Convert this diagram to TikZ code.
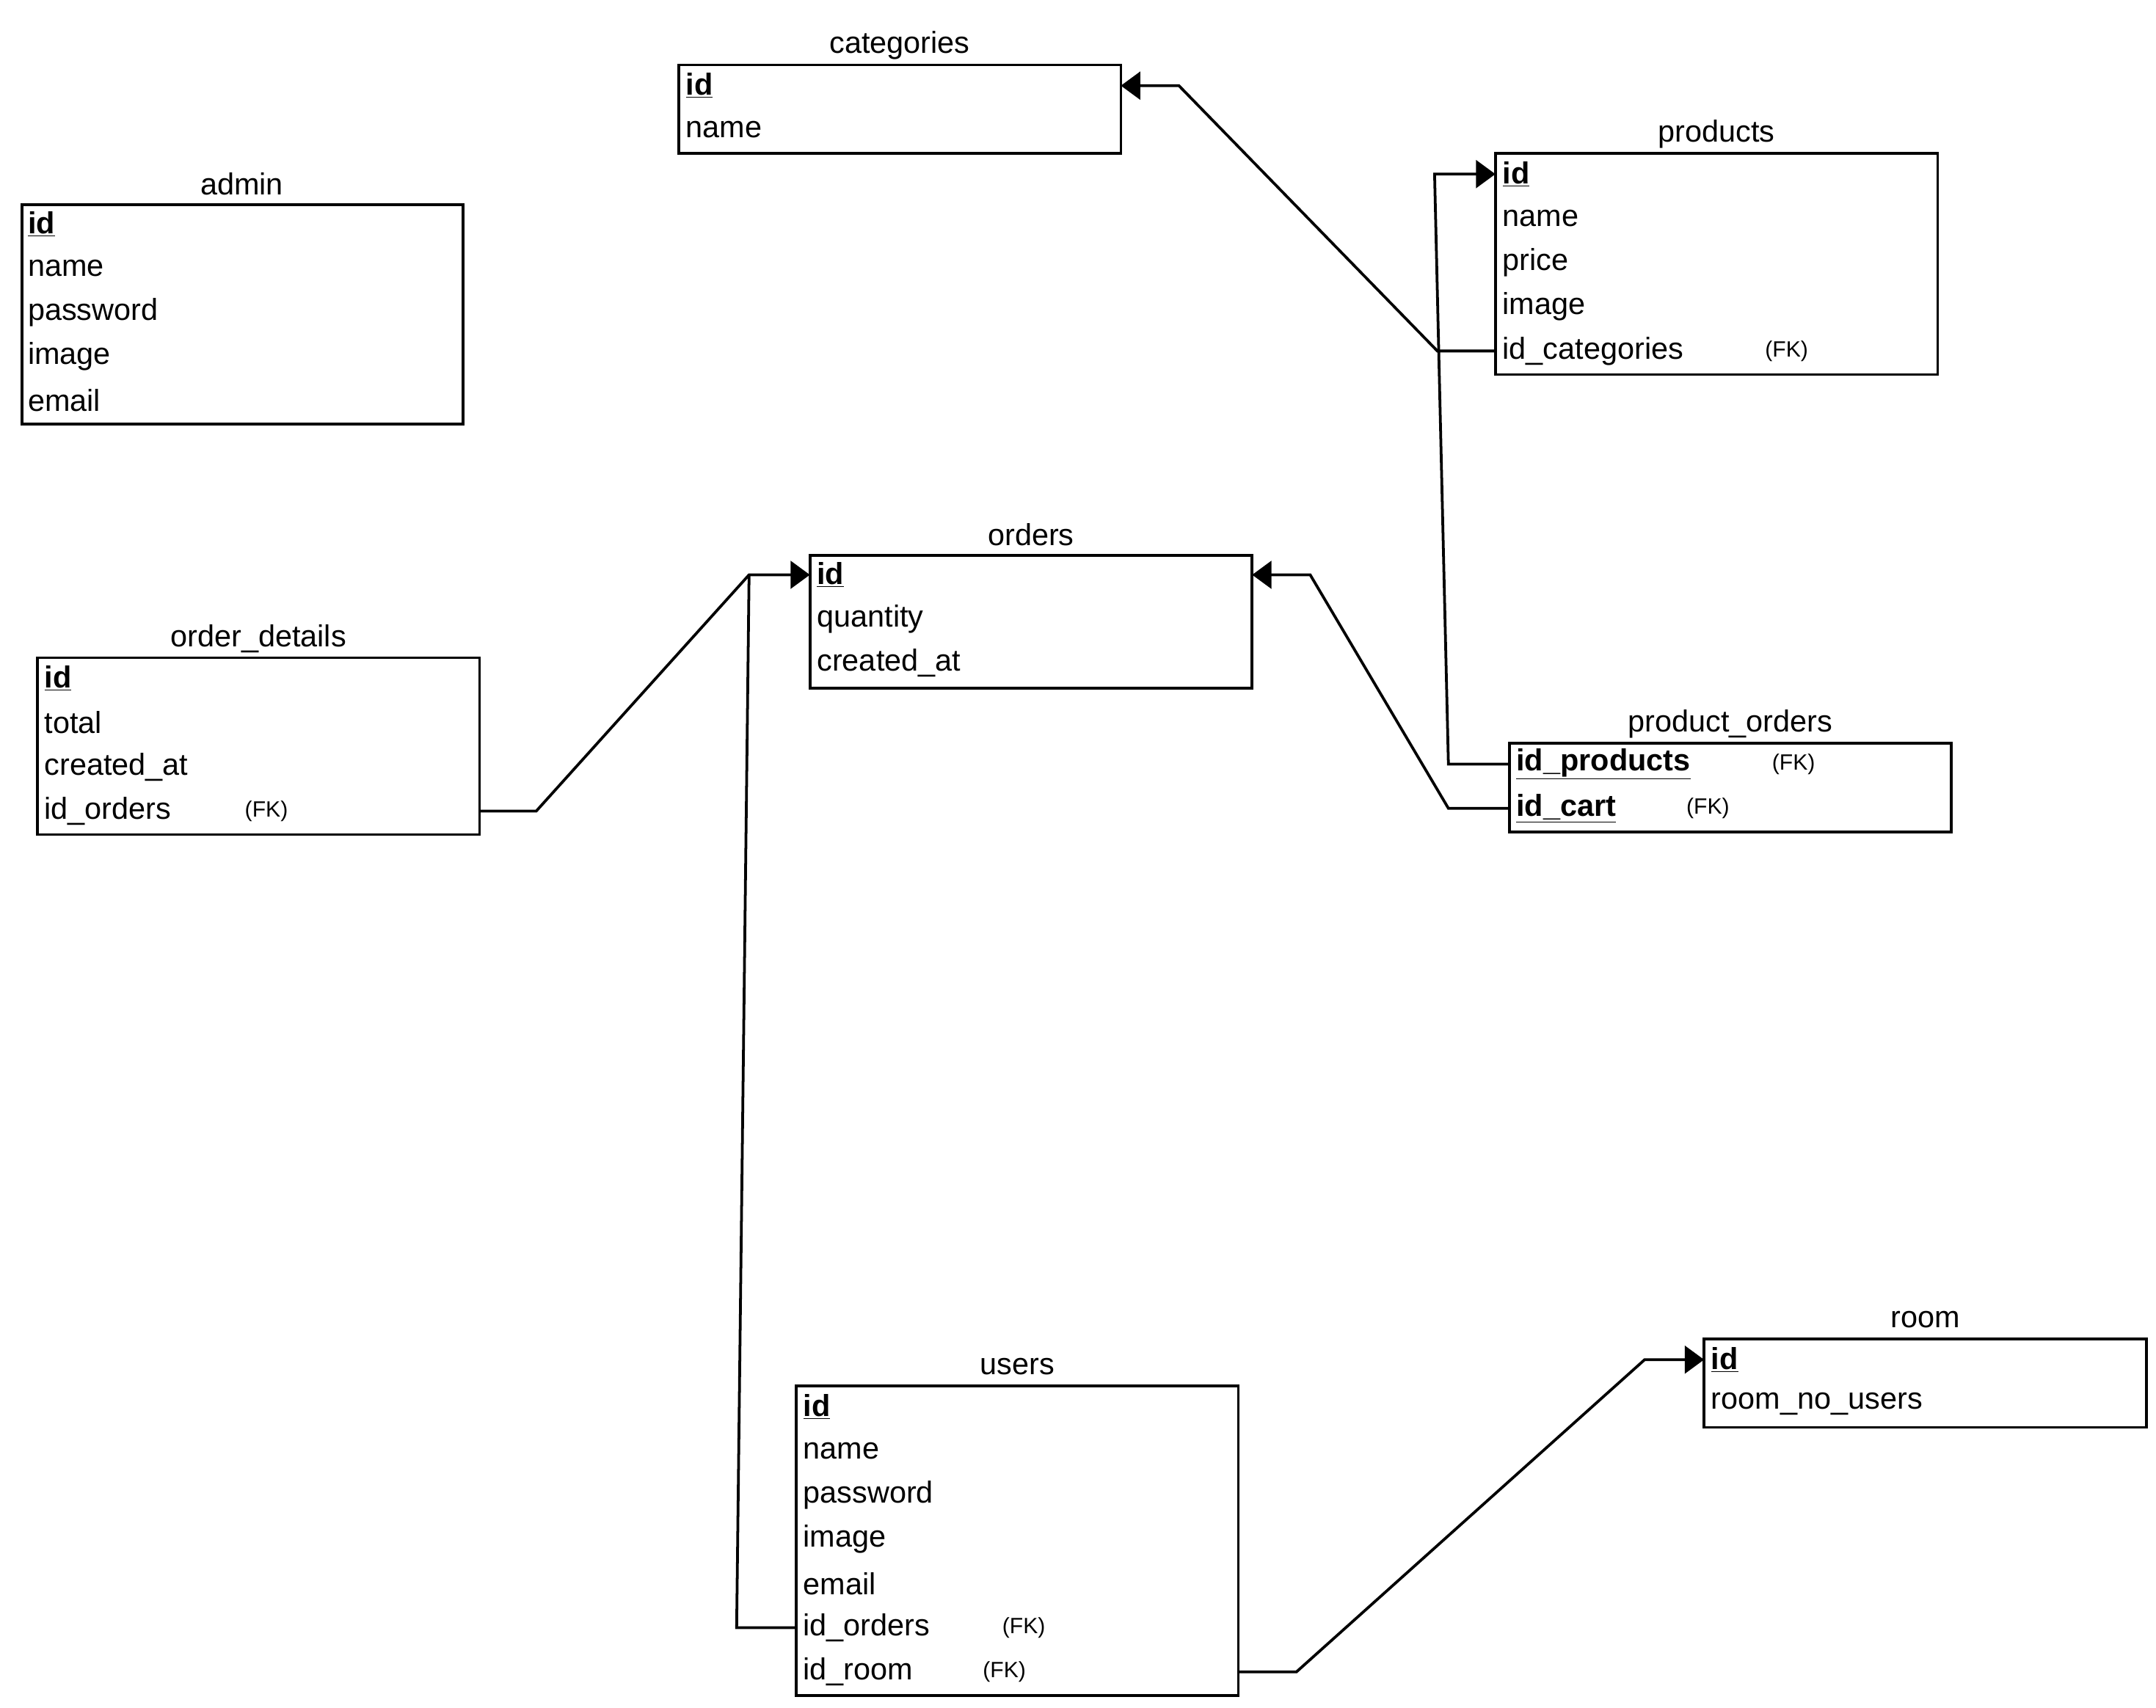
\documentclass[tikz,border=0pt]{standalone}
\usepackage{fontspec}
\setmainfont{Liberation Sans}
\usetikzlibrary{arrows.meta}
\begin{document}
\begin{tikzpicture}[x=1pt,y=-1pt,
  box/.style={draw,line width=2pt},
  fld/.style={anchor=west,inner sep=0pt,font=\fontsize{22}{26}\selectfont},
  ttl/.style={inner sep=0pt,font=\fontsize{22}{26}\selectfont},
  fk/.style={anchor=west,inner sep=0pt,font=\fontsize{16}{20}\selectfont},
  con/.style={line width=2pt},
  arr/.style={con,-{Triangle[length=14pt,width=20pt]}}]
\useasboundingbox (0,0) rectangle (1560,1236);
% categories
\node[box,minimum width=320pt,minimum height=64pt,inner sep=0pt] (cat) at (651,79) {};
\node[ttl] (catt) at (651,33) {categories};
\node[fld] (catid) at (496,62) {\textbf{\underline{id}}};
\node[fld] (catname) at (496,94) {name};
\coordinate (catE) at (811,62);
% admin
\node[box,minimum width=319pt,minimum height=159pt,inner sep=0pt] (adm) at (175.5,227.5) {};
\node[ttl] (admt) at (175,133) {admin};
\node[fld] (a1) at (20,162) {\textbf{\underline{id}}};
\node[fld] (a2) at (20,194) {name};
\node[fld] (a3) at (20,226) {password};
\node[fld] (a4) at (20,258) {image};
\node[fld] (a5) at (20,290) {email};
% products
\node[box,minimum width=320pt,minimum height=160pt,inner sep=0pt] (prod) at (1242,191) {};
\node[ttl] (prodt) at (1242,97) {products};
\node[fld] (p1) at (1087,126) {\textbf{\underline{id}}};
\node[fld] (p2) at (1087,158) {name};
\node[fld] (p3) at (1087,190) {price};
\node[fld] (p4) at (1087,222) {image};
\node[fld] (p5) at (1087,254) {id\_categories};
\node[fk] (p5fk) at (1277,254) {(FK)};
\coordinate (prodW1) at (1082,126);
\coordinate (prodW5) at (1082,254);
% orders
\node[box,minimum width=320pt,minimum height=96pt,inner sep=0pt] (ord) at (746,450) {};
\node[ttl] (ordt) at (746,387) {orders};
\node[fld] (o1) at (591,416) {\textbf{\underline{id}}};
\node[fld] (o2) at (591,448) {quantity};
\node[fld] (o3) at (591,480) {created\_at};
\coordinate (ordW) at (586,416);
\coordinate (ordE) at (906,416);
% order_details
\node[box,minimum width=320pt,minimum height=128pt,inner sep=0pt] (od) at (187,540) {};
\node[ttl] (odt) at (187,462) {order\_details};
\node[fld] (d1) at (32,491) {\textbf{\underline{id}}};
\node[fld] (d2) at (32,523) {total};
\node[fld] (d3) at (32,555) {created\_at};
\node[fld] (d4) at (32,587) {id\_orders};
\node[fk] (d4fk) at (177,587) {(FK)};
\coordinate (odE) at (347,587);
% product_orders
\node[box,minimum width=320pt,minimum height=64pt,inner sep=0pt] (po) at (1252,570) {};
\node[ttl] (pot) at (1252,524) {product\_orders};
\node[fld] (q1) at (1097,553) {\textbf{\underline{id\_products}}};
\node[fk] (q1fk) at (1282,553) {(FK)};
\node[fld] (q2) at (1097,585) {\textbf{\underline{id\_cart}}};
\node[fk] (q2fk) at (1220,585) {(FK)};
\coordinate (poW1) at (1092,553);
\coordinate (poW2) at (1092,585);
% users
\node[box,minimum width=320pt,minimum height=224pt,inner sep=0pt] (usr) at (736,1115) {};
\node[ttl] (usrt) at (736,989) {users};
\node[fld] (u1) at (581,1018) {\textbf{\underline{id}}};
\node[fld] (u2) at (581,1050) {name};
\node[fld] (u3) at (581,1082) {password};
\node[fld] (u4) at (581,1114) {image};
\node[fld] (u5) at (581,1146) {email};
\node[fld] (u6) at (581,1178) {id\_orders};
\node[fk] (u6fk) at (725,1178) {(FK)};
\node[fld] (u7) at (581,1210) {id\_room};
\node[fk] (u7fk) at (711,1210) {(FK)};
\coordinate (usrW6) at (576,1178);
\coordinate (usrE7) at (896,1210);
% room
\node[box,minimum width=320pt,minimum height=64pt,inner sep=0pt] (room) at (1393,1001) {};
\node[ttl] (roomt) at (1393,955) {room};
\node[fld] (r1) at (1238,984) {\textbf{\underline{id}}};
\node[fld] (r2) at (1238,1016) {room\_no\_users};
\coordinate (roomW) at (1233,984);
% connectors
\coordinate (j1) at (542,416);
\draw[arr] (prodW5) -- (1040,254) -- (853,62) -- (catE);
\draw[arr] (poW1) -- (1048,553) -- (1038,126) -- (prodW1);
\draw[arr] (poW2) -- (1048,585) -- (948,416) -- (ordE);
\draw[arr] (odE) -- (388,587) -- (j1) -- (ordW);
\draw[con] (usrW6) -- (533,1178) -- (j1);
\draw[arr] (usrE7) -- (938,1210) -- (1190,984) -- (roomW);
\end{tikzpicture}
\end{document}
